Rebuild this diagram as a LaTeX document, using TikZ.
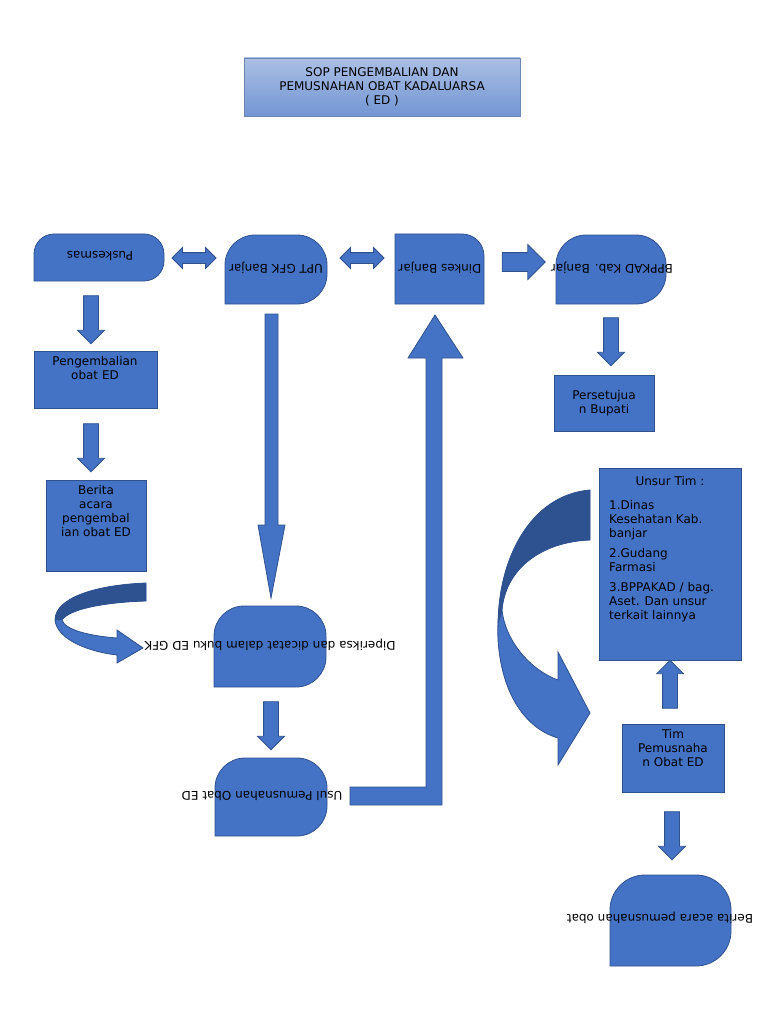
\documentclass[tikz,border=0pt]{standalone}
\usepackage{fontspec}
\setmainfont{DejaVu Sans}
\usetikzlibrary{shapes.arrows}
\definecolor{boxblue}{HTML}{4472C4}
\definecolor{edgeblue}{HTML}{2F528F}
\definecolor{darkblue}{HTML}{2E5290}
\tikzset{
  blok/.style={fill=boxblue,draw=edgeblue,line width=0.8pt},
  teks/.style={font=\fontsize{12}{14}\selectfont,align=center,inner sep=0pt},
  turun/.style={blok,single arrow,shape border rotate=270,inner sep=7pt,
    single arrow head extend=6pt,minimum height=48pt},
  dua/.style={blok,double arrow,inner sep=5pt,double arrow head extend=5pt,minimum height=44pt}
}
\begin{document}
\begin{tikzpicture}[x=1pt,y=-1pt]
\useasboundingbox (0,0) rectangle (768,1024);
\clip (0,0) rectangle (768,1024);

    % Judul
    \draw[draw=edgeblue!70,top color=boxblue!45,bottom color=boxblue!75] (244,58) rectangle (520,116);
    \node[teks] (judul) at (382,87) {SOP PENGEMBALIAN DAN\\PEMUSNAHAN OBAT KADALUARSA\\( ED )};

    % Baris atas
    \draw[blok] (34,281) -- (34,254) [rounded corners=20] -- (34,234) -- (164,234) [sharp corners] -- (164,261) [rounded corners=20] -- (164,281) [sharp corners] -- cycle;
    \node[teks,rotate=180] (puskesmas) at (100,256) {Puskesmas};
    \draw[blok] (225,304) -- (225,270) [rounded corners=30] -- (225,235) -- (327,235) [sharp corners] -- (327,270) [rounded corners=30] -- (327,304) [sharp corners] -- cycle;
    \node[teks,rotate=180] (upt) at (276,268) {UPT GFK Banjar};
    \draw[blok] (395,304) -- (395,234) -- (440,234) [rounded corners=22] -- (484,234) [sharp corners] -- (484,304) -- cycle;
    \node[teks,rotate=180] (dinkes) at (440,268) {Dinkes Banjar};
    \draw[blok] (556,304) -- (556,270) [rounded corners=30] -- (556,235) -- (666,235) [sharp corners] -- (666,270) [rounded corners=30] -- (666,304) [sharp corners] -- cycle;
    \node[teks,rotate=180] (bppkad) at (612,268) {BPPKAD Kab. Banjar};
    \node[dua] (d1) at (194,258) {};
    \node[dua] (d2) at (362,258) {};
    \node[blok,single arrow,inner sep=9pt,single arrow head extend=8pt,minimum height=43pt] (a1) at (519,262) {};

    % Kolom kiri
    \node[turun] (a2) at (91,316) {};
    \draw[blok] (34,351) rectangle (157,408);
    \node[teks,anchor=north] (kembali) at (95,356) {Pengembalian\\obat ED};
    \node[turun] (a3) at (91,444) {};
    \draw[blok] (46,480) rectangle (146,571);
    \node[teks,anchor=north] (berita) at (96,485) {Berita\\acara\\pengembal\\ian obat ED};
    \draw[blok] (146,583) .. controls (95,585) and (55,598) .. (55,620) .. controls (57,640) and (90,652) .. (117,655)
      -- (117,663) -- (143,648) -- (117,630) -- (117,638) .. controls (90,636) and (65,630) .. (62,620)
      .. controls (70,608) and (110,602) .. (146,601) -- cycle;
    \fill[darkblue] (146,583) .. controls (95,585) and (55,598) .. (55,620) -- (62,620)
      .. controls (70,608) and (110,602) .. (146,601) -- cycle;

    % Kolom tengah
    \draw[blok] (265,314) -- (278,314) -- (278,525) -- (285,525) -- (271,598) -- (258,525) -- (265,525) -- cycle;
    \draw[blok] (214,687) -- (214,645) [rounded corners=30] -- (214,606) -- (326,606) [sharp corners] -- (326,645) [rounded corners=30] -- (326,687) [sharp corners] -- cycle;
    \node[teks,rotate=180] (periksa) at (270,645) {Diperiksa dan dicatat dalam buku ED GFK};
    \node[turun] (a4) at (271,722) {};
    \draw[blok] (215,836) -- (215,796) [rounded corners=30] -- (215,758) -- (327,758) [sharp corners] -- (327,796) [rounded corners=30] -- (327,836) [sharp corners] -- cycle;
    \node[teks,rotate=180] (usul) at (262,796) {Usul Pemusnahan Obat ED};
    \draw[blok] (350,787) -- (426,787) -- (426,358) -- (408,358) -- (435,315) -- (463,358) -- (442,358) -- (442,805) -- (350,805) -- cycle;

    % Kolom kanan
    \node[turun] (a5) at (611,338) {};
    \draw[blok] (554,375) rectangle (654,431);
    \node[teks] (setuju) at (604,403) {Persetujua\\n Bupati};
    \draw[blok] (590,490) .. controls (530,495) and (495,560) .. (498,640) .. controls (502,700) and (530,730) .. (558,738)
      -- (558,765) -- (590,713) -- (558,652) -- (558,680) .. controls (530,670) and (505,640) .. (502,610)
      .. controls (505,570) and (540,542) .. (590,540) -- cycle;
    \fill[darkblue] (590,490) .. controls (530,495) and (497,560) .. (498,625) -- (502,612)
      .. controls (505,570) and (540,542) .. (590,540) -- cycle;
    \draw[blok] (599,468) rectangle (741,660);
    \begin{scope}
      \clip (599,468) rectangle (741,658);
      \node[teks] (unsur) at (670,481) {Unsur Tim :};
      \node[teks,anchor=north west,align=left] (daftar) at (609,500) {1.Dinas\\Kesehatan Kab.\\banjar\\[6pt]2.Gudang\\Farmasi\\[6pt]3.BPPAKAD / bag.\\Aset. Dan unsur\\terkait lainnya};
    \end{scope}
    \node[turun,shape border rotate=90] (a6) at (670,688) {};
    \draw[blok] (622,724) rectangle (724,792);
    \node[teks,anchor=north] (tim) at (673,729) {Tim\\Pemusnaha\\n Obat ED};
    \node[turun] (a7) at (672,832) {};
    \draw[blok] (610,966) -- (610,918) [rounded corners=35] -- (610,875) -- (731,875) [sharp corners] -- (731,918) [rounded corners=35] -- (731,966) [sharp corners] -- cycle;
    \node[teks,rotate=180] (bamusnah) at (660,918) {Berita acara pemusnahan obat};

\end{tikzpicture}
\end{document}
